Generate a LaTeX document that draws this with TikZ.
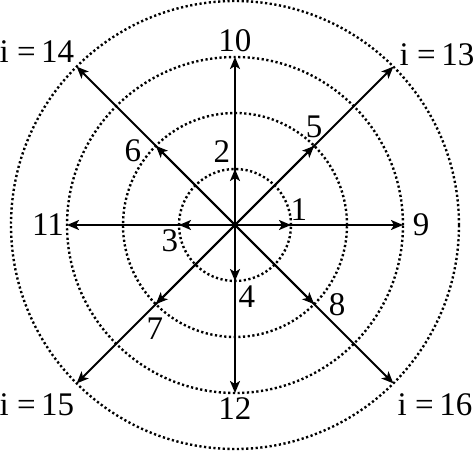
\documentclass[tikz,border=0pt]{standalone}
\usepackage{fontspec}
\setmainfont{Liberation Serif}
\usetikzlibrary{arrows.meta}

\begin{document}
\begin{tikzpicture}[x=1pt,y=1pt,
  ring/.style={line width=2.4pt, dash pattern=on 2.2pt off 2.5pt},
  vec/.style={line width=2pt, -{Stealth[length=12pt,width=10pt,inset=3pt]}},
  lbl/.style={font=\fontsize{33}{33}\selectfont, inner sep=0pt}]
\useasboundingbox (-235,-226) rectangle (239,225);

%draw the dotted circles
\coordinate (O) at (0,0);
\foreach \r in {56,112,168,224} \draw [ring] (O) circle (\r);

%end points of the arrows
\foreach \a/\r/\n in {0/56/e1, 90/56/e2, 180/56/e3, 270/56/e4,
                      45/112/e5, 135/112/e6, 225/112/e7, 315/112/e8,
                      0/168/e9, 90/168/e10, 180/168/e11, 270/168/e12,
                      45/224/e13, 135/224/e14, 225/224/e15, 315/224/e16}
  \coordinate (\n) at (\a:\r);

%draw the arrows, long ones first
\foreach \n in {9,...,16} \draw [vec] (O) -- (e\n);
\foreach \n in {1,...,8} \draw [vec] (O) -- (e\n);

%labels
\node [lbl] (l1) at (64,15) {1};
\node [lbl] (l2) at (-13,73) {2};
\node [lbl] (l3) at (-65,-16) {3};
\node [lbl] (l4) at (12,-72) {4};
\node [lbl] (l5) at (79,98) {5};
\node [lbl] (l6) at (-102,74) {6};
\node [lbl] (l7) at (-80,-104) {7};
\node [lbl] (l8) at (102,-80) {8};
\node [lbl] (l9) at (186,0) {9};
\node [lbl] (l10) at (0,184) {10};
\node [lbl] (l11) at (-187,0) {11};
\node [lbl] (l12) at (0,-184) {12};
\node [lbl] (l13) at (202,170) {i =\,13};
\node [lbl] (l14) at (-198,173) {i =\,14};
\node [lbl] (l15) at (-198,-180) {i =\,15};
\node [lbl] (l16) at (200,-180) {i =\,16};

\end{tikzpicture}
\end{document}
